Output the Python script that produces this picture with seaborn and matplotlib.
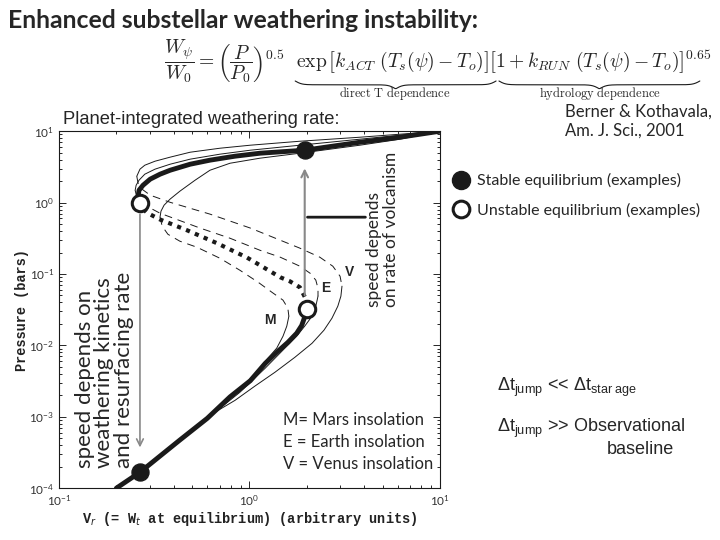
import numpy as np
import matplotlib.pyplot as plt
from matplotlib.lines import Line2D
import seaborn as sns

sns.set_theme(style='ticks')
plt.rcParams['font.family'] = ['Lato', 'DejaVu Sans']
plt.rcParams['mathtext.fontset'] = 'dejavusans'
plt.rcParams['mathtext.rm'] = 'Liberation Sans'
plt.rcParams['mathtext.it'] = 'Liberation Sans:italic'
plt.rcParams['mathtext.bf'] = 'Liberation Sans:bold'

# thick curve (reference case): stable lower / unstable middle / stable upper
thick_lower_v = [0.20, 0.266, 0.43, 0.60, 0.79, 1.01, 1.21, 1.39, 1.59, 1.77, 1.88, 1.95, 2.02]
thick_lower_p = [1.0e-4, 1.67e-4, 4.7e-4, 9.5e-4, 1.9e-3, 3.2e-3, 5.6e-3, 8.0e-3, 1.1e-2,
                 1.48e-2, 1.9e-2, 2.5e-2, 3.2e-2]
thick_mid_v = [1.95, 1.84, 1.63, 1.45, 1.21, 0.97, 0.675, 0.47, 0.339, 0.29, 0.268]
thick_mid_p = [0.048, 0.065, 0.079, 0.090, 0.12, 0.17, 0.27, 0.41, 0.58, 0.72, 0.88]
thick_upper_v = [0.266, 0.26, 0.263, 0.276, 0.301, 0.339, 0.383, 0.488, 0.62, 0.84, 1.135,
                 1.95, 3.8, 6.17, 10]
thick_upper_p = [0.98, 1.23, 1.49, 1.75, 2.13, 2.50, 2.84, 3.45, 3.93, 4.47, 4.92,
                 5.42, 7.01, 8.24, 10]

# thin curves for V / E / M insolation (upper solid, middle dashed, lower solid)
v_upper_v = [10, 6.17, 3.8, 1.84, 1.01, 0.70, 0.488, 0.383, 0.319, 0.282, 0.266, 0.256]
v_upper_p = [10, 9.08, 8.24, 7.24, 6.37, 5.78, 5.08, 4.33, 3.80, 3.34, 2.94, 2.34]
v_mid_v = [0.256, 0.260, 0.273, 0.301, 0.383, 0.62, 1.01, 1.84, 2.34, 2.74, 2.99, 3.06]
v_mid_p = [2.34, 1.87, 1.54, 1.27, 1.01, 0.69, 0.44, 0.23, 0.172, 0.1285, 0.093, 0.0675]
v_lower_v = [3.06, 3.02, 2.91, 2.71, 2.46, 2.13, 1.73, 1.36, 1.07, 0.84, 0.66]
v_lower_p = [0.0675, 0.0489, 0.0354, 0.024, 0.0163, 0.0107, 0.0068, 0.0042, 0.0027,
             0.0017, 0.00116]

e_upper_v = [10, 6.17, 3.8, 1.84, 1.01, 0.70, 0.488, 0.383, 0.319, 0.282, 0.263, 0.254, 0.251]
e_upper_p = [10, 8.79, 7.73, 6.37, 5.42, 4.77, 4.06, 3.45, 2.94, 2.50, 2.06, 1.75, 1.49]
e_mid_v = [0.251, 0.256, 0.276, 0.339, 0.55, 0.79, 1.135, 1.45, 1.84, 2.08, 2.23, 2.29, 2.29]
e_mid_p = [1.49, 1.19, 0.95, 0.71, 0.44, 0.317, 0.215, 0.172, 0.1285, 0.1026, 0.082,
           0.063, 0.0489]
e_lower_v = [2.29, 2.23, 2.13, 1.95, 1.77, 1.50, 1.21, 0.89, 0.66]
e_lower_p = [0.0489, 0.0354, 0.0256, 0.0186, 0.01346, 0.0086, 0.0048, 0.0022, 0.00116]

m_upper_v = [10, 6.17, 3.8, 1.84, 1.135, 0.79, 0.62, 0.518, 0.431, 0.383, 0.356, 0.343, 0.339]
m_upper_p = [10, 7.73, 6.37, 4.92, 4.19, 3.56, 2.84, 2.06, 1.445, 1.12, 0.92, 0.758, 0.625]
m_mid_v = [0.339, 0.348, 0.373, 0.431, 0.53, 0.70, 0.89, 1.11, 1.31, 1.50, 1.59, 1.61]
m_mid_p = [0.625, 0.467, 0.36, 0.288, 0.237, 0.166, 0.113, 0.0767, 0.0556, 0.043, 0.0332,
           0.0256]
m_lower_v = [1.61, 1.57, 1.50, 1.39, 1.25, 1.11, 0.89]
m_lower_p = [0.0256, 0.0186, 0.01346, 0.00914, 0.00662, 0.0045, 0.00236]

stable_v = [1.95, 0.266]
stable_p = [5.4, 1.67e-4]
unstable_v = [0.266, 2.0]
unstable_p = [0.98, 0.032]

# jumps between branches (start, end)
jump_up_v, jump_up_p = 1.95, (0.046, 3.3)
jump_down_v, jump_down_p = 0.266, (0.75, 3.4e-4)

curve_labels = ['V', 'E', 'M']
curve_label_v = [3.37, 2.52, 1.28]
curve_label_p = [0.106, 0.063, 0.0226]

fig = plt.figure(figsize=(7.2, 5.4), dpi=100)
ax = fig.add_axes([0.082, 0.096, 0.529, 0.661])
ax.set_xscale('log')
ax.set_yscale('log')

thin = dict(color='k', lw=0.7, sort=False, estimator=None, legend=False, ax=ax)
for xs, ys in [(v_upper_v, v_upper_p), (v_lower_v, v_lower_p),
               (e_upper_v, e_upper_p), (e_lower_v, e_lower_p),
               (m_upper_v, m_upper_p), (m_lower_v, m_lower_p)]:
    sns.lineplot(x=xs, y=ys, **thin)
for xs, ys in [(v_mid_v, v_mid_p), (e_mid_v, e_mid_p), (m_mid_v, m_mid_p)]:
    sns.lineplot(x=xs, y=ys, linestyle=(0, (8, 6)), **thin)

thick = dict(color='k', sort=False, estimator=None, legend=False, ax=ax)
sns.lineplot(x=thick_lower_v, y=thick_lower_p, lw=3.5, **thick)
sns.lineplot(x=thick_upper_v, y=thick_upper_p, lw=3.5, **thick)
sns.lineplot(x=thick_mid_v, y=thick_mid_p, lw=3, linestyle=(0, (1, 1.3)), **thick)

ax.annotate('', xy=(jump_up_v, jump_up_p[1]), xytext=(jump_up_v, jump_up_p[0]),
            arrowprops=dict(arrowstyle='->', color='#888888', lw=1.5))
ax.annotate('', xy=(jump_down_v, jump_down_p[1]), xytext=(jump_down_v, jump_down_p[0]),
            arrowprops=dict(arrowstyle='->', color='#888888', lw=1.2))
# connector to the volcanism note
ax.annotate('', xy=(4.2, 0.625), xytext=(jump_up_v, 0.625),
            arrowprops=dict(arrowstyle='-', color='k', lw=2), annotation_clip=False)

sns.scatterplot(x=stable_v, y=stable_p, s=150, color='k', edgecolor='k', zorder=5, ax=ax)
sns.scatterplot(x=unstable_v, y=unstable_p, s=140, facecolor='white', edgecolor='k',
                linewidth=2.2, zorder=5, ax=ax)

for lab, xv, yv in zip(curve_labels, curve_label_v, curve_label_p):
    ax.text(xv, yv, lab, fontsize=10, fontweight='bold', family='Liberation Sans',
            ha='center', va='center')

ax.set_xlim(0.1, 10)
ax.set_ylim(1e-4, 10)
ax.tick_params(which='both', direction='in', top=True, right=True, labelsize=8.5,
               labelcolor='#333333', width=0.7)
ax.tick_params(which='major', length=5)
ax.tick_params(which='minor', length=2.5)
for s in ax.spines.values():
    s.set_linewidth(0.8)
    s.set_color('k')
ax.set_xlabel('V$_r$ (= W$_t$ at equilibrium) (arbitrary units)', family='Liberation Mono',
              fontweight='bold', fontsize=9.8, color='#222222')
ax.set_ylabel('Pressure (bars)', family='Liberation Mono', fontweight='bold', fontsize=9.8,
              color='#222222')
ax.xaxis.set_label_coords(0.5, -0.062)
ax.yaxis.set_label_coords(-0.078, 0.5)

# legend for equilibrium markers
handles = [Line2D([], [], ls='', marker='o', ms=13, mfc='k', mec='k'),
           Line2D([], [], ls='', marker='o', ms=12, mfc='white', mec='k', mew=2.2)]
fig.legend(handles, ['Stable equilibrium (examples)', 'Unstable equilibrium (examples)'],
           loc='upper left', bbox_to_anchor=(0.607, 0.706), frameon=False, fontsize=11.5,
           handletextpad=0.4, labelspacing=0.9, handlelength=1.2)

# slide texts
fig.text(0.011, 0.962, 'Enhanced substellar weathering instability:', fontsize=17.8,
         fontweight='bold', va='center')
fig.text(0.228, 0.887,
         r'$\dfrac{W_\psi}{W_0} = \left(\dfrac{P}{P_0}\right)^{0.5}\ \ '
         r'\exp\left[k_{ACT}\ (T_s(\psi)-T_o)\right]\left[1+k_{RUN}\ (T_s(\psi)-T_o)\right]^{0.65}$',
         fontsize=14.1, va='center', math_fontfamily='cm')


def brace(x0, x1, y, h):
    t = np.linspace(0, 0.5, 100)
    beta = 60
    half = 1 / (1 + np.exp(-beta * (t - t[0]))) + 1 / (1 + np.exp(-beta * (t - t[-1])))
    yy = np.concatenate([half, half[::-1]]) - 0.5
    xx = np.linspace(x0, x1, yy.size)
    fig.add_artist(Line2D(xx, y - h * yy, transform=fig.transFigure, color='k', lw=0.8))


brace(0.410, 0.689, 0.850, 0.014)
brace(0.693, 0.972, 0.850, 0.014)
fig.text(0.549, 0.826, r'$\mathrm{direct\ T\ dependence}$', fontsize=9, ha='center',
         va='center', math_fontfamily='cm')
fig.text(0.833, 0.826, r'$\mathrm{hydrology\ dependence}$', fontsize=9, ha='center',
         va='center', math_fontfamily='cm')

fig.text(0.785, 0.776, 'Berner & Kothavala,\nAm. J. Sci., 2001', fontsize=12, va='center',
         linespacing=1.25)
fig.text(0.088, 0.779, 'Planet-integrated weathering rate:', fontsize=13.2,
         family='Liberation Sans', va='center')

fig.text(0.145, 0.134, 'speed depends on\nweathering kinetics\nand resurfacing rate',
         rotation=90, fontsize=16, ha='center', va='bottom', multialignment='left',
         linespacing=0.95)
fig.text(0.531, 0.432, 'speed depends\non rate of volcanism', rotation=90, fontsize=12.5,
         ha='center', va='bottom', multialignment='left', linespacing=1.1)

fig.text(0.393, 0.181, 'M= Mars insolation\nE = Earth insolation\nV = Venus insolation',
         fontsize=12, va='center', linespacing=1.45)

fig.text(0.69, 0.282, r'Δt$_{\mathrm{jump}}$ << Δt$_{\mathrm{star\ age}}$', fontsize=13,
         family='Liberation Sans', va='center', math_fontfamily='custom')
fig.text(0.69, 0.207, r'Δt$_{\mathrm{jump}}$ >> Observational', fontsize=13,
         family='Liberation Sans', va='center', math_fontfamily='custom')
fig.text(0.89, 0.167, 'baseline', fontsize=13, family='Liberation Sans', ha='center',
         va='center')

fig.savefig('out.png', dpi=100)
